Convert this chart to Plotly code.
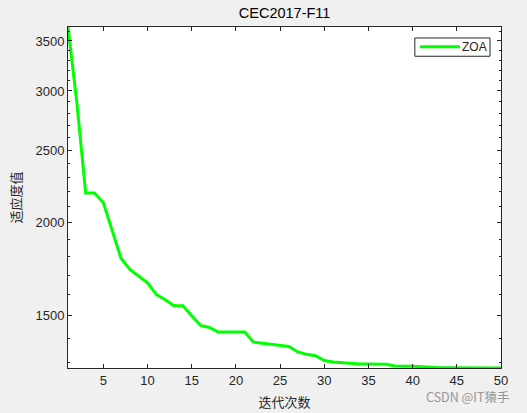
import plotly.graph_objects as go

# convergence curve, ZOA on CEC2017-F11
iterations = list(range(1, 51))
zoa_fitness = [
    3654, 2896, 2191, 2191, 2125, 1944, 1791, 1731, 1694, 1660,
    1601, 1576, 1547, 1547, 1500, 1456, 1447, 1427, 1427, 1427,
    1427, 1383, 1378, 1373, 1371, 1365, 1342, 1332, 1326, 1307,
    1301, 1298, 1294, 1293, 1293, 1292, 1292, 1285, 1285, 1284,
    1282, 1279, 1278, 1278, 1278, 1277, 1277, 1277, 1277, 1277,
]
x_ticks = [5, 10, 15, 20, 25, 30, 35, 40, 45, 50]
y_ticks = [1500, 2000, 2500, 3000, 3500]
y_minor = [v for v in range(1300, 3700, 100) if v not in y_ticks]

GREEN = "#00FF00"
INK = "#262626"

fig = go.Figure()
fig.add_trace(go.Scatter(
    x=iterations, y=zoa_fitness, mode="lines", name="ZOA",
    line=dict(color=GREEN, width=3), showlegend=False,
))

axis_style = dict(
    showline=True, linecolor=INK, linewidth=1, mirror="ticks",
    ticks="inside", ticklen=4, tickcolor=INK,
    showgrid=False, zeroline=False, automargin=False,
    tickfont=dict(family="Liberation Sans, Arial", size=13, color=INK),
)

fig.update_xaxes(
    range=[1, 50], tickvals=x_ticks,
    title=dict(text="迭代次数", font=dict(family="Noto Sans CJK SC", size=13, color=INK),
               standoff=11),
    **axis_style,
)
fig.update_yaxes(
    type="log", range=[3.1062, 3.5628], tickvals=y_ticks,
    minor=dict(tickvals=y_minor, ticks="inside", ticklen=2, tickcolor=INK),
    title=dict(text="适应度值", font=dict(family="Noto Sans CJK SC", size=13, color=INK),
               standoff=10),
    **axis_style,
)

fig.update_layout(
    width=527, height=413,
    margin=dict(l=68, r=26, t=27, b=45),
    paper_bgcolor="#F0F0F0", plot_bgcolor="white",
    title=dict(text="CEC2017-F11", x=0.54, xanchor="center", y=0.968, yanchor="middle",
               font=dict(family="Liberation Sans, Arial", size=14.5, color="black")),
    showlegend=False,
)

# legend box drawn by hand (MATLAB style, compact)
fig.add_shape(type="rect", xref="paper", yref="paper",
              x0=0.801, x1=0.9746, y0=0.9142, y1=0.9678,
              line=dict(color=INK, width=1), fillcolor="white")
fig.add_shape(type="line", xref="paper", yref="paper",
              x0=0.8127, x1=0.9052, y0=0.942, y1=0.942,
              line=dict(color=GREEN, width=3))
fig.add_annotation(text="ZOA", xref="paper", yref="paper", x=0.906, y=0.942,
                   xanchor="left", yanchor="middle", showarrow=False,
                   font=dict(family="Liberation Sans, Arial", size=12, color=INK))

fig.add_annotation(
    text="CSDN @IT猿手", xref="paper", yref="paper", x=1.025, y=-0.085,
    xanchor="right", yanchor="middle", showarrow=False,
    font=dict(family="Noto Sans CJK SC", size=12.5, color="#969696"),
)

fig.write_html(
    "out.html",
    config={"displayModeBar": False},
    post_script="document.body.style.margin='0';document.body.style.background='#F0F0F0';",
)
